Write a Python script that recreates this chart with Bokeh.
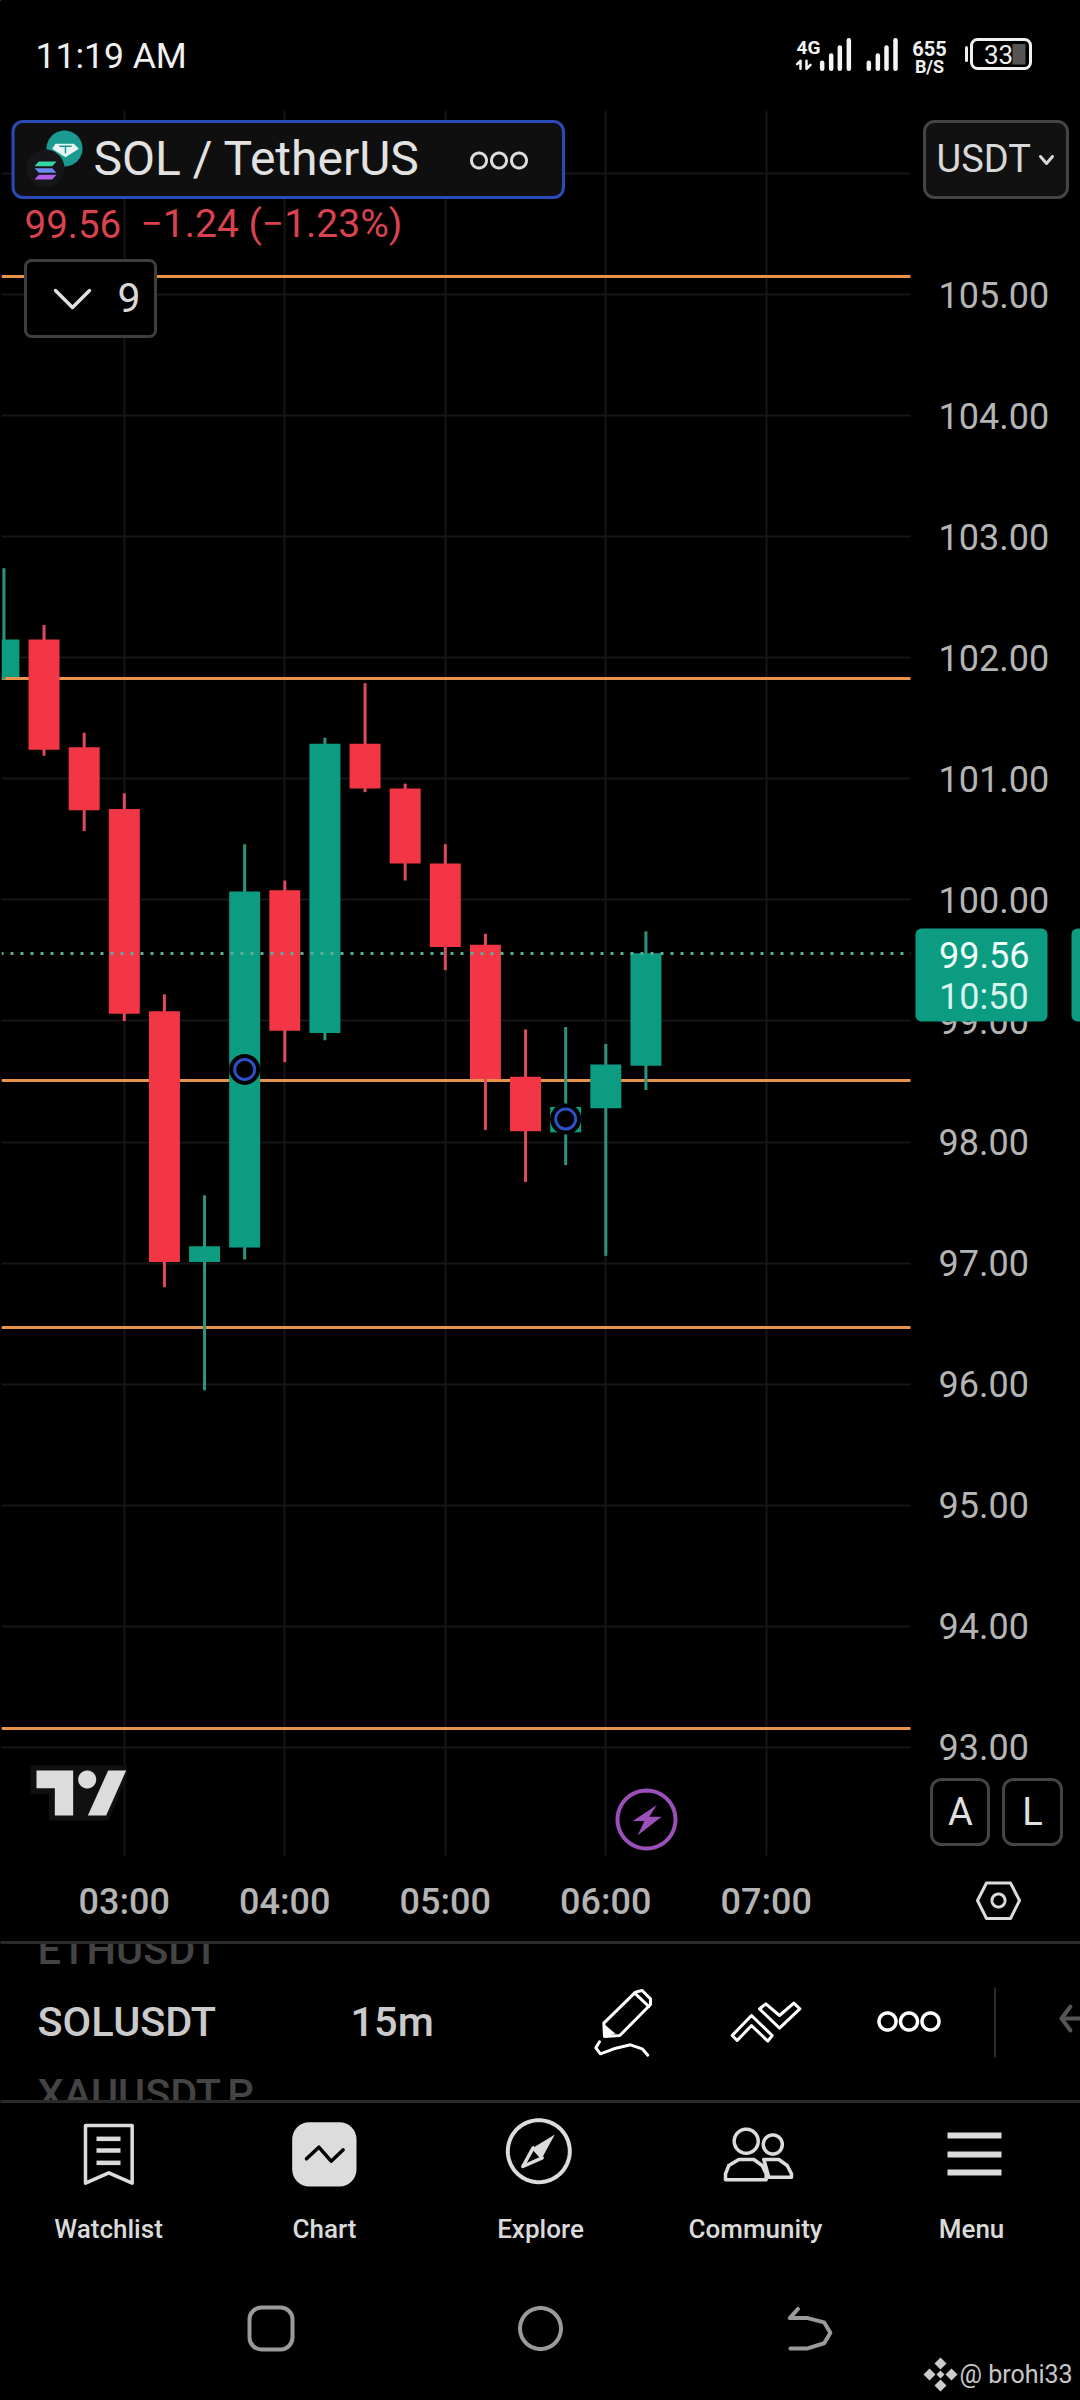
import numpy as np
from bokeh.plotting import figure
from bokeh.embed import file_html
from bokeh.resources import INLINE
from bokeh.models import Range1d, FixedTicker
from bokeh.core.properties import value

# ---------- chart data ----------
times = [2.25, 2.5, 2.75, 3.0, 3.25, 3.5, 3.75, 4.0, 4.25, 4.5, 4.75, 5.0, 5.25, 5.5, 5.75, 6.0, 6.25]
opens = [101.84, 102.15, 101.26, 100.75, 99.08, 97.01, 97.13, 100.08, 98.90, 101.29, 100.92, 100.30, 99.63, 98.54, 98.08, 98.28, 98.63]
closes = [102.15, 101.24, 100.74, 99.06, 97.01, 97.14, 100.07, 98.92, 101.29, 100.92, 100.30, 99.61, 98.52, 98.09, 98.29, 98.64, 99.56]
highs = [102.74, 102.27, 101.38, 100.88, 99.22, 97.56, 100.46, 100.16, 101.34, 101.79, 100.96, 100.46, 99.72, 98.93, 98.95, 98.81, 99.74]
lows = [101.82, 101.19, 100.57, 99.00, 96.80, 95.95, 97.03, 98.66, 98.84, 100.89, 100.16, 99.42, 98.10, 97.67, 97.81, 97.06, 98.43]
level_lines = [105.15, 101.825, 98.51, 96.47, 93.16]
last_price = [99.56]
signal_times = [3.75, 5.75]
signal_prices = [98.60, 98.19]
price_ticks = [93, 94, 95, 96, 97, 98, 99, 100, 101, 102, 103, 104, 105, 106]
hour_ticks = [3, 4, 5, 6, 7]
hour_labels = ["03:00", "04:00", "05:00", "06:00", "07:00"]

UP, DOWN = "#0C9C82", "#F23645"
UPW, DOWNW = "#2F9381", "#E04A5C"
ORANGE = "#E8934A"
GREY = "#B4B4B4"
ICON = "#DCDCDC"
MEDIUM = "Roboto Medium"

FL, FT, FR, FB = 0, 108, 912, 1857
p = figure(width=1080, height=2400, output_backend="svg", toolbar_location=None,
           x_range=Range1d(3 - 123.8 / 160.5, 7 + (912 - 765.8) / 160.5),
           y_range=Range1d(105 - (FB - 294) / 121.08, 105 + (294 - FT) / 121.08),
           y_axis_location="right", min_border_left=0, min_border_right=1080 - FR,
           min_border_top=FT, min_border_bottom=2400 - FB,
           background_fill_color="#000000", border_fill_color="#000000",
           outline_line_color=None)
p.extra_x_ranges["px"] = Range1d(FL, FR)
p.extra_y_ranges["px"] = Range1d(FB, FT)

# ---------- axes ----------
ya, xa = p.yaxis[0], p.xaxis[0]
ya.ticker = FixedTicker(ticks=price_ticks)
ya.major_label_overrides = {t: ("" if t == 106 else f"{t:.2f}") for t in price_ticks}
xa.ticker = FixedTicker(ticks=hour_ticks)
xa.major_label_overrides = dict(zip(hour_ticks, hour_labels))
for a in (ya, xa):
    a.axis_line_color = None
    a.major_tick_line_color = None
    a.minor_tick_line_color = None
    a.major_tick_out = 0
    a.major_tick_in = 0
    a.major_label_text_font = "Roboto"
    a.major_label_text_font_size = "36px"
    a.major_label_text_color = GREY
ya.major_label_text_align = "left"
ya.major_label_standoff = 26
xa.major_label_standoff = 23
xa.major_label_text_font = MEDIUM
p.xgrid.visible = False
p.ygrid.visible = False

# ---------- chart marks ----------
p.vspan(x=hour_ticks, line_color="#161616", line_width=2)
p.hspan(y=price_ticks, line_color="#161616", line_width=2)
p.hspan(y=level_lines, line_color=ORANGE, line_width=3)
for cond, body, wick in ((lambda o, c: c >= o, UP, UPW), (lambda o, c: c < o, DOWN, DOWNW)):
    idx = [i for i in range(len(times)) if cond(opens[i], closes[i])]
    t = [times[i] for i in idx]
    p.segment(x0=t, x1=t, y0=[lows[i] for i in idx], y1=[highs[i] for i in idx],
              line_color=wick, line_width=3)
    p.vbar(x=t, width=0.193, top=[max(opens[i], closes[i]) for i in idx],
           bottom=[min(opens[i], closes[i]) for i in idx], fill_color=body, line_color=None)
p.hspan(y=last_price, line_color="#5AAE9B", line_width=3, line_dash="3 7")
p.scatter(x=signal_times, y=signal_prices, size=31, fill_color="#000000", line_color=None)
p.scatter(x=signal_times, y=signal_prices, size=20, fill_color="#000000", line_color="#2F4FC8", line_width=3)

# ---------- interface chrome (page pixels) ----------
px = dict(x_range_name="px", y_range_name="px", level="overlay")

def box(l, t, r, b, fill, line=None, lw=0, rad=0):
    p.quad(left=[l], right=[r], top=[t], bottom=[b], fill_color=fill, line_color=line,
           line_width=lw, border_radius=rad, **px)

def txt(x, y, s, size, color, align="left", font="Roboto", style="normal"):
    p.text(x=[x], y=[y], text=[s], text_font=value(font), text_font_size=f"{size}px",
           text_color=color, text_align=align, text_baseline="middle", text_font_style=style, **px)

def ln(pts, color, lw, cap="round"):
    p.line(x=[a for a, _ in pts], y=[b for _, b in pts], line_color=color, line_width=lw,
           line_cap=cap, line_join="round", **px)

def poly(pts, fill, line=None, lw=0):
    p.patch(x=[a for a, _ in pts], y=[b for _, b in pts], fill_color=fill, line_color=line,
            line_width=lw, line_join="round", **px)

def disc_pts(x, y, r):
    a = np.linspace(0, 2 * np.pi, 60, endpoint=False)
    return list(zip(x + r * np.cos(a), y + r * np.sin(a)))

def ring(x, y, r, color, lw, fill=None):
    poly(disc_pts(x, y, r), fill, color, lw)

def dot(x, y, r, color):
    poly(disc_pts(x, y, r), color)

def Z(ox, oy, pts):
    return [(ox + a / 3, oy + b / 3) for a, b in pts]

def C3(pts):
    return [(a / 1.452, 1720 + b / 2.306) for a, b in pts]

# hide the hairline left around the plot frame and canvas edge
for edge in ([(FR, FT - 2), (FR, FB + 2)], [(0, FT), (FR, FT)], [(0, FB), (FR, FB)],
             [(0, 0), (1080, 0)], [(1080, 0), (1080, 2400)], [(0, 2400), (1080, 2400)]):
    ln(edge, "#000000", 4, "butt")
ln([(0, 0), (0, 2400)], "#000000", 2.5, "butt")

# status bar
txt(35, 55, "11:19 AM", 35.5, "#F0F0F0")
txt(796, 47, "4G", 19, "#F5F5F5", style="bold")
ln(Z(780, 25, [(60, 130), (60, 106), (50, 116)]), "#F5F5F5", 2.5)
ln(Z(780, 25, [(78, 106), (78, 130), (90, 118)]), "#F5F5F5", 2.5)
for gx, top in ((125, 112), (152, 90), (178, 66), (205, 44), (265, 112), (292, 90), (318, 66), (345, 44)):
    ln(Z(780, 25, [(gx, top), (gx, 130)]), "#F5F5F5", 4.5)
txt(929, 48, "655", 20, "#F0F0F0", "center", style="bold")
txt(929, 66, "B/S", 18, "#F0F0F0", "center", style="bold")
ln([(966, 47), (966, 60)], "#F0F0F0", 3)
box(971, 39, 1030, 68, "#000000", "#F0F0F0", 3, 6)
box(1012, 43.5, 1025, 64, "#555555")
txt(998, 54, "33", 26, "#F0F0F0", "center")

# symbol header
box(12.5, 121, 563, 197, "#0F0F0F", "#2A4BB5", 3, 10)
dot(64, 148, 18, "#1A9A90")
poly(Z(10, 115, [(135, 85), (190, 85), (205, 100), (165, 125), (125, 100)]), "#E8F5F2")
ln(Z(10, 115, [(148, 92), (182, 92)]), "#1A9A90", 1.5)
ln(Z(10, 115, [(165, 92), (165, 112)]), "#1A9A90", 1.5)
dot(45, 168, 19, "#15151A")
poly(Z(10, 115, [(85, 138), (138, 138), (125, 152), (72, 152)]), "#34D6A6")
poly(Z(10, 115, [(72, 158), (125, 158), (138, 172), (85, 172)]), "#6C8CF0")
poly(Z(10, 115, [(85, 178), (138, 178), (125, 192), (72, 192)]), "#B060E8")
txt(93, 158, "SOL / TetherUS", 48, "#E2E2E2")
for cx in (478.5, 498.5, 518.5):
    ring(cx, 160, 7.5, "#DCDCDC", 3)
box(924, 121, 1067, 197, "#111111", "#444444", 3, 10)
txt(936, 158, "USDT", 38, "#D8D8D8")
ln([(1040, 156), (1046, 163), (1052, 156)], "#D8D8D8", 3)
txt(24, 223, "99.56", 38.5, "#D9434F")
txt(140, 223, "\u22121.24 (\u22121.23%)", 39, "#D9434F")
box(25, 260, 155, 336, "#000000", "#3E3E3E", 3, 6)
ln([(55, 290), (72, 307), (89, 290)], "#E0E0E0", 3.5)
txt(117, 297, "9", 41, "#D8D8D8")

# current price tag
box(915, 928, 1047, 1021, UP, None, 0, 6)
box(1071, 928, 1095, 1021, UP, None, 0, 6)
txt(938.5, 954, "99.56", 36, "#F2FFFB")
txt(938.5, 996, "10:50", 36, "#D8F5EC")

# logo and bottom chart buttons
poly(Z(20, 1755, [(30, 30), (320, 30), (320, 60), (265, 195), (85, 195), (85, 115), (30, 115)]), "#101010")
poly(Z(20, 1755, [(48, 45), (158, 45), (158, 180), (103, 180), (103, 98), (48, 98)]), ICON)
dot(86.7, 1779, 9, ICON)
poly(Z(20, 1755, [(263, 45), (317, 45), (257, 180), (202, 180)]), ICON)
ring(646, 1819, 29, "#9B4FB8", 4)
poly(C3([(953, 195), (918, 232), (935, 232), (925, 265), (960, 222), (942, 222)]), "#9B4FB8")
box(931, 1779, 988, 1844, "#000000", "#444444", 3, 10)
box(1003, 1779, 1061, 1844, "#000000", "#444444", 3, 10)
txt(960, 1811, "A", 38, "#E0E0E0", "center")
txt(1032, 1811, "L", 38, "#E0E0E0", "center")
poly([(977, 1900), (986, 1882.5), (1010, 1882.5), (1019, 1900), (1010, 1918), (986, 1918)], None, "#DCDCDC", 3)
ring(998, 1900, 6.5, "#DCDCDC", 3)

# toolbar row
txt(37, 1949, "ETHUSDT", 41.5, "#444444", font=MEDIUM)
txt(37, 2093, "XAUUSDT.P", 41.5, "#444444", font=MEDIUM)
box(0, 1925, 1080, 1942, "#000000")
box(0, 2102, 1080, 2130, "#000000")
ln([(0, 1942), (1080, 1942)], "#2A2A2A", 3, "butt")
ln([(0, 2101), (1080, 2101)], "#2A2A2A", 3, "butt")
txt(37, 2021, "SOLUSDT", 41.5, "#CACACA", font=MEDIUM)
txt(350, 2021, "15m", 41.5, "#CACACA", font=MEDIUM)
poly(Z(580, 1980, [(72, 168), (70, 128), (165, 35), (185, 30), (210, 55), (210, 72), (118, 165)]), None, "#FFFFFF", 3)
poly(Z(580, 1980, [(72, 168), (72, 132), (105, 160)]), "#FFFFFF")
ln(Z(580, 1980, [(165, 40), (205, 78)]), "#FFFFFF", 3)
ln(Z(580, 1980, [(57, 184), (46, 202), (60, 220), (100, 205), (150, 193), (185, 205), (202, 224)]), "#FFFFFF", 3)
poly(Z(580, 1980, [(455, 165), (513, 105), (575, 165), (562, 182), (513, 135), (470, 180)]), None, "#FFFFFF", 3)
poly(Z(580, 1980, [(537, 85), (556, 70), (597, 105), (640, 68), (658, 85), (597, 143)]), None, "#FFFFFF", 3)
for cx in (887, 908.5, 930):
    ring(cx, 2021, 8.5, "#FFFFFF", 3.5)
ln([(994.5, 1987), (994.5, 2057)], "#2A2A2A", 2, "butt")
ln([(1070, 2006), (1061, 2018), (1070, 2030)], "#555555", 4)
ln([(1061, 2018), (1080, 2018)], "#555555", 4)

# bottom navigation
poly(Z(70, 2110, [(45, 45), (185, 45), (185, 218), (115, 187), (45, 218)]), None, ICON, 3.5)
for yy in (85, 120, 157):
    ln(Z(70, 2110, [(78, yy), (150, yy)]), ICON, 4.5, "butt")
box(291.7, 2121.7, 356, 2186, ICON, None, 0, 17)
ln(Z(70, 2110, [(708, 145), (745, 110), (782, 152), (818, 118)]), "#000000", 3.5)
ring(538.3, 2150.7, 31, ICON, 4)
poly(Z(490, 2110, [(193, 72), (128, 112), (155, 142)]), ICON)
poly(Z(490, 2110, [(128, 112), (97, 168), (155, 142)]), None, ICON, 3.5)
ring(772.3, 2144, 9.5, ICON, 3.5)
poly(Z(490, 2110, [(820, 147), (865, 147), (890, 165), (903, 190), (903, 200), (835, 200)]), None, ICON, 3.5)
ring(745.7, 2140.7, 12, ICON, 3.5)
poly(Z(490, 2110, [(705, 208), (705, 190), (715, 165), (745, 147), (790, 147), (815, 165), (827, 190), (827, 208)]), "#000000", ICON, 3.5)
for yy in (2135, 2154, 2172):
    ln([(947, yy), (1001, yy)], ICON, 6, "butt")
for cx, name in ((108, "Watchlist"), (324, "Chart"), (540, "Explore"), (755, "Community"), (971, "Menu")):
    txt(cx, 2228, name, 26, "#DADADA", "center", font=MEDIUM)

# android navigation
box(249, 2307, 292, 2349, "#000000", "#9A9A9A", 4, 12)
ring(540, 2328, 20.5, "#9A9A9A", 4)
ln(C3([(1158, 1357), (1146, 1378), (1172, 1378), (1196, 1388), (1205, 1412), (1196, 1436), (1172, 1448), (1147, 1448)]), "#9A9A9A", 4)

# watermark
for dx, dy in ((0, -11), (-11, 0), (11, 0), (0, 11)):
    poly([(940 + dx, 2368 + dy), (946 + dx, 2374 + dy), (940 + dx, 2380 + dy), (934 + dx, 2374 + dy)], "#CCCCCC")
poly([(940, 2370), (944, 2374), (940, 2378), (936, 2374)], "#CCCCCC")
txt(959, 2374, "@ brohi33", 25, "#C8C8C8")

open("out.html", "w").write(file_html(p, INLINE))
